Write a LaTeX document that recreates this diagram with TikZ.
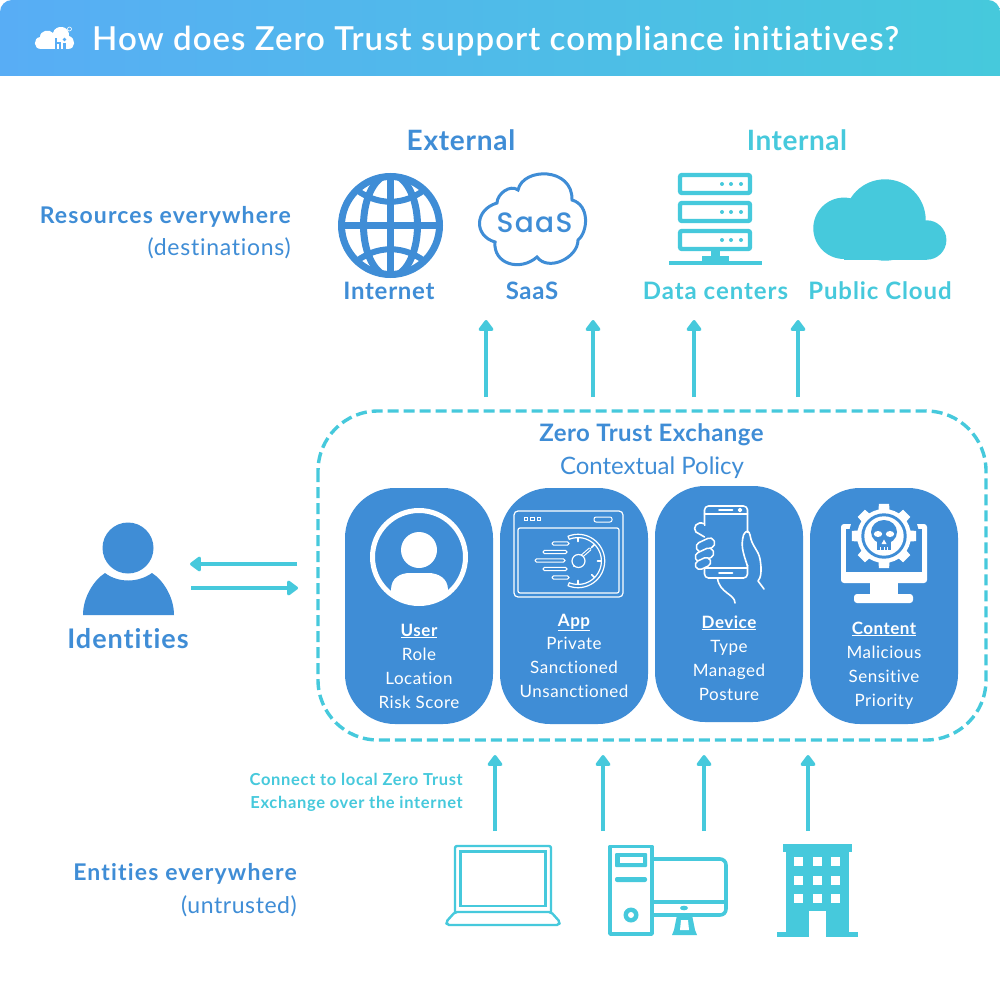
\documentclass[tikz,border=0pt]{standalone}
\usepackage{fontspec}
\setmainfont{Lato}[RawFeature=-liga]
\newfontfamily\zsemi{Lato Semibold}[RawFeature=-liga]
\newfontfamily\zpop{Poppins Medium}
\usetikzlibrary{arrows.meta}
\definecolor{zblue}{HTML}{3F8DD6}
\definecolor{zteal}{HTML}{46C9DC}
\definecolor{zhead}{HTML}{58ADF5}
\newcommand{\fs}[1]{\fontsize{#1}{#1}\selectfont}
\newcommand{\zls}[1]{\addfontfeatures{LetterSpace=#1}}
\tikzset{
  x=1pt,y=-1pt,
  flow/.style={draw=zteal,line width=4pt,-{Triangle[width=17pt,length=12pt,round]}},
  card/.style={fill=zblue,draw=none,rounded corners=50pt},
  bluetxt/.style={text=zblue,inner sep=0pt,anchor=base},
  tealtxt/.style={text=zteal,inner sep=0pt,anchor=base},
  whitetxt/.style={text=white,inner sep=0pt,anchor=base,font=\fs{17}\zls{3}},
  wl/.style={draw=white,line width=1.2pt,fill=none},
  wh/.style={draw=white,line width=1.6pt,line cap=round,line join=round},
  pill/.style={draw=white,fill=zblue,line width=1.5pt,rounded corners=4.5pt},
  srv/.style={draw=zteal,line width=4.4pt,rounded corners=2pt},
}
\begin{document}
\begin{tikzpicture}
\useasboundingbox (0,0) rectangle (1000,1000);
\fill[white] (0,0) rectangle (1000,1000);
% header
\shade[left color=zhead,right color=zteal] (0,76) [rounded corners=12pt] -- (0,0) -- (1000,0) [sharp corners] -- (1000,76) -- cycle;
% logo
\fill[white] (41,49) .. controls (33,49) and (33,38) .. (40,37) .. controls (40,30) and (50,29) .. (53,33) .. controls (55,24) and (70,25) .. (69,36) .. controls (76,38) and (76,49) .. (68,49) -- cycle;
\fill[zhead] (54.5,38) rectangle (56.5,49);
\fill[zhead] (56.5,42) rectangle (60,44);
\fill[zhead] (58.5,42) rectangle (60.5,49);
\fill[zhead] (63,43) rectangle (66,49);
\fill[zhead] (64.5,39.5) circle (1.8);
\draw[white,line width=.6pt] (69.5,29) circle (2);
\node[text=white,inner sep=0pt,anchor=base west,font=\fs{33}\zsemi\zls{3.1}] (title) at (92,51) {How does Zero Trust support compliance initiatives?};
% left labels
\node[bluetxt,anchor=base east,font=\fs{23}\bfseries\zls{4.9}] (res) at (291,223) {Resources everywhere};
\node[bluetxt,anchor=base east,font=\fs{23}\zls{3.2}] (dest) at (291,255.5) {(destinations)};
\node[bluetxt,font=\fs{28}\bfseries\zls{2.7}] (ext) at (461,151) {External};
\node[tealtxt,font=\fs{28}\bfseries\zls{2}] (int) at (797,151) {Internal};
% globe
\begin{scope}
\clip (390.5,225.5) circle (52);
\draw[zblue,line width=7pt] (390.5,225.5) ellipse (27 and 51);
\draw[zblue,line width=7pt] (390.5,170) -- (390.5,281);
\draw[zblue,line width=7pt] (335,225.5) -- (446,225.5);
\draw[zblue,line width=6pt] (352,186) .. controls (375,207) and (406,207) .. (429,186);
\draw[zblue,line width=6pt] (352,265) .. controls (375,244) and (406,244) .. (429,265);
\end{scope}
\draw[zblue,line width=7pt] (390.5,225.5) circle (49);
\node[bluetxt,font=\fs{24}\bfseries\zls{3}] (inet) at (389,299) {Internet};
% saas cloud
\draw[zblue,line width=3pt] (497,203) .. controls (497,194) and (510,184) .. (518,190) .. controls (523,167) and (573,167) .. (572,200) .. controls (590,205) and (588,232) .. (578,240) .. controls (578,258) and (548,272) .. (537,257) .. controls (520,272) and (493,264) .. (495,242) .. controls (474,236) and (474,210) .. (497,203) -- cycle;
\node[text=zblue,inner sep=0pt,font=\zpop\fs{28}\zls{5}] (saast) at (534.5,223) {SaaS};
\node[bluetxt,font=\fs{24}\bfseries\zls{3}] (saas) at (532,299) {SaaS};
% servers
\foreach \ya/\yb in {175/193,203/221,231/249}{
  \draw[srv] (680,\ya) rectangle (750,\yb);
  \foreach \xd in {722,731,741}{\fill[zteal] (\xd,{(\ya+\yb)/2}) circle (2);}
}
\fill[zteal] (711,250) rectangle (720,258);
\fill[zteal] (702,256) rectangle (729,262);
\fill[zteal] (669,261) rectangle (762,265);
\node[tealtxt,font=\fs{24}\bfseries\zls{4}] (dc) at (715.5,299) {Data centers};
% public cloud
\fill[zteal] (844,228.3) circle (30.7);
\fill[zteal] (885,220) circle (40.7);
\fill[zteal] (926.7,240) circle (19.7);
\fill[zteal] (844,230) rectangle (927,259.7);
\node[tealtxt,font=\fs{24}\bfseries\zls{3.8}] (pc) at (880,299) {Public Cloud};
% exchange
\draw[zteal,line width=3.4pt,dash pattern=on 11pt off 5pt,rounded corners=60pt] (318,411) rectangle (986,740);
\node[bluetxt,font=\fs{24}\bfseries\zls{2}] (zte) at (651.5,441) {Zero Trust Exchange};
\node[bluetxt,font=\fs{24}] (cp) at (652,474) {Contextual Policy};
% up arrows
\foreach \n/\x in {a/486,b/593,c/694,d/798}{
  \coordinate (up\n s) at (\x,397); \coordinate (up\n e) at (\x,320);
  \draw[flow] (up\n s) -- (up\n e);
}
\foreach \n/\x in {a/495,b/603,c/704,d/808}{
  \coordinate (lo\n s) at (\x,831); \coordinate (lo\n e) at (\x,755);
  \draw[flow] (lo\n s) -- (lo\n e);
}
% identities
\coordinate (il) at (190,564); \coordinate (ir) at (297,564);
\coordinate (jl) at (191,588); \coordinate (jr) at (298,588);
\draw[flow] (ir) -- (il);
\draw[flow] (jl) -- (jr);
\fill[zblue] (128,548) circle (25.5);
\fill[zblue] (83,615) .. controls (83,597) and (94,580) .. (105,573) .. controls (118,583) and (138,583) .. (152,573) .. controls (163,580) and (174,597) .. (174,615) -- cycle;
\node[bluetxt,font=\fs{27}\bfseries\zls{3.6}] (idt) at (128,648) {Identities};
% cards
\fill[card] (345,488) rectangle (493,724);
\fill[card] (500,488) rectangle (648,724);
\fill[card] (655,486) rectangle (803,722);
\fill[card] (810,488) rectangle (958,724);
% user icon
\draw[white,line width=5pt] (419,557) circle (46.5);
\fill[white] (419,550) circle (18);
\begin{scope}
\clip (419,557) circle (46.5);
\fill[white] (391,620) -- (391,590) .. controls (391,578) and (400,573) .. (410,573) -- (428,573) .. controls (438,573) and (448,578) .. (448,590) -- (448,620) -- cycle;
\end{scope}
\node[whitetxt] (u0) at (419,636) {\bfseries\underline{User}};
\node[whitetxt] (u1) at (419,660) {Role};
\node[whitetxt] (u2) at (419,684) {Location};
\node[whitetxt] (u3) at (419,708) {Risk Score};
% app icon
\draw[wl,rounded corners=4pt] (514,511) rectangle (623,597);
\draw[wl,rounded corners=2pt] (518,528) rectangle (619,593);
\foreach \x in {526,532.5,539}{\draw[white,line width=1pt] (\x-1.6,517.6) rectangle (\x+1.6,520.8);}
\draw[white,line width=1pt,rounded corners=2pt] (594,517) rectangle (612,522);
\foreach \xa/\xb/\yy in {552/569/543.5,543/567/552,535/565/560.5,543/567/569,552/569/577.5}{
  \draw[white,line width=1pt,rounded corners=1.5pt] (\xa,\yy-1.6) rectangle (\xb,\yy+1.6);
}
\draw[wl] plot[domain=-112:112,samples=40] ({578+26.7*cos(\x)},{561+26.7*sin(\x)});
\draw[wl] plot[domain=-112:112,samples=40] ({578+23.4*cos(\x)},{561+23.4*sin(\x)});
\foreach \a in {-112,112}{
  \draw[white,line width=1.2pt,line cap=round] ({578+26.7*cos(\a)},{561+26.7*sin(\a)}) -- ({578+23.4*cos(\a)},{561+23.4*sin(\a)});
}
\foreach \a in {-90,-45,0,45,90}{
  \draw[white,line width=1.6pt,line cap=round] ({578+23.4*cos(\a)},{561+23.4*sin(\a)}) -- ({578+19.5*cos(\a)},{561+19.5*sin(\a)});
}
\draw[white,line width=3.4pt,line cap=round] (582,556) -- (590,549);
\draw[zblue,line width=1.2pt,line cap=round] (582,556) -- (590,549);
\draw[wl,fill=zblue] (578.5,561) circle (6.5);
\fill[white] (574,566) circle (1.2);
\node[whitetxt] (a0) at (574,626) {\bfseries\underline{App}};
\node[whitetxt] (a1) at (574,649) {Private};
\node[whitetxt] (a2) at (574,673) {Sanctioned};
\node[whitetxt] (a3) at (574,697) {Unsanctioned};
% device icon
\draw[wh,rounded corners=4pt] (704.5,506) rectangle (747.5,578);
\draw[wh] (704.5,514) -- (747.5,514) (704.5,568) -- (747.5,568);
\draw[wh] (719,510) -- (732.5,510) (719,573) -- (732.5,573);
\draw[wh] (740,510) circle (1.6);
\fill[zblue] (693,523) rectangle (703.7,568);
\fill[zblue] (703.7,526) rectangle (705.5,567);
\draw[wh] (704.5,524) .. controls (697,520) and (692,528) .. (696,532) -- (704.5,537);
\draw[pill,shift={(705.5,545)},rotate=25] (-9.5,-5) rectangle (9.5,5);
\draw[pill,shift={(704.5,555)},rotate=25] (-9.5,-5) rectangle (9.5,5);
\draw[pill,shift={(703,563.5)},rotate=25] (-8,-4.5) rectangle (8,4.5);
\fill[zblue] (741,533) rectangle (749,565);
\draw[wh] (747.5,566) .. controls (742,550) and (741,545) .. (743.5,535) .. controls (747,529) and (749,531) .. (750,535) .. controls (752,547) and (758,549) .. (760,559) .. controls (762,570) and (761,578) .. (758,581) -- (764,589);
\draw[wh] (717.5,578) .. controls (719,593) and (735,594) .. (735,603);
\node[whitetxt] (d0) at (729,628) {\bfseries\underline{Device}};
\node[whitetxt] (d1) at (729,652) {Type};
\node[whitetxt] (d2) at (729,676) {Managed};
\node[whitetxt] (d3) at (729,700) {Posture};
% content icon
\fill[white,rounded corners=3pt] (841,524) rectangle (927,583);
\fill[zblue] (846,529) rectangle (922,572);
\fill[white] (870,582) rectangle (898,595);
\fill[white,rounded corners=3pt] (854,594) -- (913,594) -- (913,603) -- (854,603) -- cycle;
\fill[zblue] (884,536) circle (35);
\fill[white] (884,536) circle (27);
\foreach \a in {0,45,...,315}{
  \fill[white] ({884+cos(\a-13)*25},{536+sin(\a-13)*25}) -- ({884+cos(\a-9)*32.5},{536+sin(\a-9)*32.5}) -- ({884+cos(\a+9)*32.5},{536+sin(\a+9)*32.5}) -- ({884+cos(\a+13)*25},{536+sin(\a+13)*25}) -- cycle;
}
\fill[zblue] (884,536) circle (22.7);
\fill[white] (884,536) circle (19.7);
\fill[zblue] (884,532) ellipse (13 and 12);
\fill[zblue] (877,535) rectangle (891,549.5);
\fill[white] (878,534) ellipse (4.2 and 3);
\fill[white] (890,534) ellipse (4.2 and 3);
\fill[white] (884,539.5) -- (886.5,544) -- (881.5,544) -- cycle;
\fill[white] (880.3,546.5) rectangle (881.3,549.5);
\fill[white] (883.5,546.5) rectangle (884.5,549.5);
\fill[white] (886.7,546.5) rectangle (887.7,549.5);
\node[whitetxt] (c0) at (884,634) {\bfseries\underline{Content}};
\node[whitetxt] (c1) at (884,658) {Malicious};
\node[whitetxt] (c2) at (884,682) {Sensitive};
\node[whitetxt] (c3) at (884,706) {Priority};
% entities
\node[tealtxt,anchor=base east,font=\fs{16.5}\bfseries\zls{4.1}] (n1) at (463,785) {Connect to local Zero Trust};
\node[tealtxt,anchor=base east,font=\fs{16.5}\bfseries\zls{4.1}] (n2) at (463,808) {Exchange over the internet};
\node[bluetxt,anchor=base east,font=\fs{23}\bfseries\zls{5.1}] (ent) at (297,880) {Entities everywhere};
\node[bluetxt,anchor=base east,font=\fs{23}\zls{2.5}] (unt) at (297,913) {(untrusted)};
% laptop
\draw[zteal,line width=2.4pt,line join=round,rounded corners=2pt] (455,912) -- (455,846) -- (551,846) -- (551,912);
\draw[zteal,line width=2.6pt] (460.5,851.5) rectangle (545.5,906);
\draw[zteal,line width=2.4pt,line join=round,rounded corners=2pt] (455,912) -- (446,922) -- (447,925) -- (559,925) -- (560,922) -- (551,912) -- cycle;
% desktop
\draw[zteal,line width=3.6pt,line join=round] (610,846.5) rectangle (652,934);
\fill[zteal,rounded corners=1pt] (615,853) rectangle (647,867);
\fill[white] (620,857) rectangle (643,863);
\fill[zteal,rounded corners=2pt] (615,877) rectangle (647,882);
\fill[zteal] (631,915) circle (7.5);
\fill[white] (631,915) circle (3);
\draw[zteal,line width=3.6pt,rounded corners=6pt] (652,859) -- (726,859) -- (726,915) -- (652,915);
\fill[zteal] (652,900) rectangle (726,904);
\fill[zteal] (684,908) ellipse (4 and 2.3);
\fill[zteal] (677,915) -- (692,915) -- (695,930) -- (697,935) -- (672,935) -- (674,930) -- cycle;
\fill[white] (681,920) -- (688,920) -- (689,930) -- (680,930) -- cycle;
% building
\fill[zteal] (783,844) rectangle (852,852);
\fill[zteal] (786,850) rectangle (849,937);
\fill[zteal] (777,932) rectangle (858,937);
\fill[white] (809,911) rectangle (826,937);
\foreach \yy in {857,876,894}{\foreach \xx in {794,813,831}{\fill[white] (\xx,\yy) rectangle ++(9,9);}}
\end{tikzpicture}
\end{document}
